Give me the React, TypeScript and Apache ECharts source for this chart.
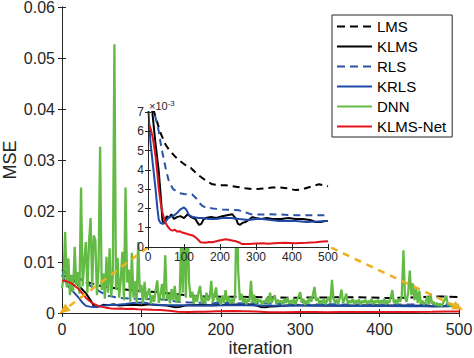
import React, { useEffect, useRef } from "react";
import * as echarts from "echarts";

// All values in units of 1e-3 (MSE x 10^-3)
const seriesNames = ["LMS", "KLMS", "RLS", "KRLS", "DNN", "KLMS-Net"];

const lmsData: number[][] = [
  [0, 7.1], [10, 7.4], [17, 7.0], [25, 6.5], [35, 5.9], [49, 5.3], [60, 5.0], [75, 4.7], [86, 4.5],
  [100, 4.3], [119, 4.1], [130, 3.9], [142, 3.7], [160, 3.45], [179, 3.25], [200, 3.2], [216, 3.2],
  [235, 3.15], [253, 3.1], [270, 3.05], [290, 3.0], [310, 3.02], [327, 3.05], [345, 3.08], [364, 3.1],
  [385, 3.05], [410, 2.95], [430, 3.0], [447, 3.1], [465, 3.2], [475, 3.25], [488, 3.2], [500, 3.15],
];

const rlsData: number[][] = [
  [0, 8.0], [10, 7.6], [17, 7.0], [25, 6.4], [30, 6.0], [35, 5.4], [40, 4.9], [50, 4.0], [58, 3.4],
  [70, 3.0], [86, 2.8], [100, 2.75], [123, 2.72], [135, 2.5], [142, 2.3], [150, 2.15], [160, 2.05],
  [180, 2.0], [206, 1.95], [230, 1.92], [253, 1.9], [270, 1.8], [290, 1.68], [310, 1.68], [336, 1.7],
  [370, 1.68], [410, 1.65], [450, 1.65], [500, 1.65],
];

const klmsData: number[][] = [
  [0, 8.5], [12, 7.0], [20, 5.5], [30, 3.9], [36, 2.5], [40, 1.4], [44, 1.2], [48, 1.35], [52, 1.6],
  [58, 1.5], [65, 1.7], [72, 1.45], [80, 1.55], [90, 1.6], [100, 1.5], [110, 1.7], [120, 1.55],
  [132, 1.45], [138, 1.25], [142, 1.15], [148, 1.2], [155, 1.45], [160, 1.5], [175, 1.55], [190, 1.5],
  [206, 1.6], [220, 1.65], [234, 1.7], [245, 1.45], [250, 1.2], [256, 1.15], [262, 1.25], [271, 1.3],
  [280, 1.4], [290, 1.55], [299, 1.5], [315, 1.45], [330, 1.5], [345, 1.45], [370, 1.45], [390, 1.5],
  [410, 1.45], [430, 1.45], [450, 1.4], [466, 1.3], [480, 1.3], [490, 1.35], [500, 1.35],
];

const krlsData: number[][] = [
  [0, 7.5], [3, 6.5], [7, 5.4], [14, 4.2], [21, 3.0], [26, 2.0], [30, 1.4], [35, 1.25], [40, 1.2],
  [48, 1.3], [58, 1.55], [70, 1.6], [80, 1.75], [90, 1.95], [100, 2.05], [106, 1.95], [114, 1.65],
  [125, 1.55], [140, 1.5], [151, 1.5], [170, 1.45], [190, 1.45], [206, 1.5], [230, 1.5], [253, 1.45],
  [280, 1.4], [300, 1.45], [318, 1.45], [340, 1.4], [364, 1.35], [390, 1.35], [410, 1.35], [440, 1.3],
  [470, 1.32], [500, 1.35],
];

const klmsNetData: number[][] = [
  [0, 6.35], [4, 6.3], [8, 6.1], [14, 5.6], [21, 4.7], [26, 3.8], [30, 3.0], [35, 2.3], [40, 1.8],
  [45, 1.45], [49, 1.25], [55, 1.05], [62, 0.9], [68, 0.85], [75, 0.9], [80, 0.8], [88, 0.82], [95, 0.75],
  [105, 0.7], [114, 0.65], [124, 0.6], [132, 0.5], [138, 0.4], [146, 0.25], [160, 0.22], [170, 0.26],
  [179, 0.25], [195, 0.32], [216, 0.4], [230, 0.35], [244, 0.3], [255, 0.22], [262, 0.15], [280, 0.15],
  [300, 0.18], [318, 0.2], [335, 0.17], [350, 0.2], [380, 0.22], [410, 0.2], [440, 0.22], [466, 0.25],
  [485, 0.28], [500, 0.3],
];

const dnnStep = 2;
const dnnValues: number[] = [
  4.8, 7.2, 15.9, 5.0, 10.7, 3.5, 7.5, 4.2, 13.0, 5.5,
  8.0, 3.8, 24.6, 5.2, 10.0, 13.9, 4.0, 13.9, 18.6, 5.0,
  15.2, 14.3, 3.5, 8.5, 32.6, 4.5, 7.8, 2.8, 11.0, 4.0,
  12.7, 3.2, 7.0, 52.7, 4.5, 10.8, 3.0, 6.5, 12.0, 2.5,
  24.6, 6.0, 8.5, 2.2, 11.8, 3.0, 6.2, 2.0, 13.9, 4.0,
  5.5, 2.0, 6.1, 2.5, 4.0, 4.8, 1.8, 3.5, 2.2, 4.5,
  6.4, 2.0, 3.6, 5.7, 2.4, 11.3, 2.8, 3.8, 1.9, 4.7,
  2.5, 5.3, 2.0, 3.6, 2.2, 14.0, 4.0, 18.0, 3.0, 21.0,
  6.0, 3.0, 4.2, 1.8, 3.5, 2.2, 4.0, 5.3, 2.0, 3.2,
  1.8, 4.0, 2.4, 3.0, 6.3, 2.0, 3.5, 5.0, 2.2, 3.0,
  1.6, 3.4, 2.0, 4.5, 2.2, 3.2, 1.8, 2.8, 2.0, 3.5,
  22.0, 8.0, 2.5, 3.8, 2.0, 3.0, 1.7, 2.8, 2.2, 6.3,
  2.0, 3.6, 1.8, 2.8, 2.2, 2.6, 1.6, 2.4, 2.0, 3.0,
  1.8, 4.0, 2.0, 2.8, 3.5, 1.7, 2.6, 2.0, 2.4, 1.6,
  2.8, 2.0, 3.0, 1.8, 2.5, 2.0, 2.8, 1.7, 2.6, 3.2,
  4.1, 2.0, 2.8, 1.6, 2.4, 2.0, 3.0, 2.2, 3.6, 5.1,
  2.4, 3.0, 1.8, 2.5, 2.0, 2.8, 1.7, 2.5, 3.2, 2.0,
  6.5, 2.8, 2.0, 2.6, 1.8, 3.0, 4.6, 2.0, 2.7, 3.8,
  1.8, 2.4, 2.0, 2.8, 1.7, 2.5, 2.0, 2.7, 1.6, 2.4,
  2.0, 2.6, 1.8, 2.4, 2.0, 2.8, 1.7, 2.4, 2.0, 2.6,
  1.8, 2.5, 2.0, 2.8, 1.7, 2.4, 2.0, 3.0, 4.5, 2.0,
  2.6, 1.8, 2.8, 2.2, 3.5, 12.3, 3.0, 2.2, 4.0, 8.3,
  3.5, 5.8, 2.5, 4.8, 2.0, 4.4, 1.8, 2.4, 1.6, 2.2,
  3.3, 1.6, 3.9, 1.8, 2.2, 1.5, 2.0, 1.4, 1.8, 1.3,
  2.0, 2.6, 3.4, 1.5, 1.8, 1.3, 1.6, 1.2, 1.5, 1.2,
  1.4,
];

// zoom-arrow annotation endpoints (iteration, MSE x1e-3)
const arrowCoords: number[][][] = [
  [[108, 12.9], [2, 0.5]],
  [[339, 12.8], [499, 1.1]],
];

const mainXTicks = { min: 0, max: 500, interval: 100 };
const mainYTicks = { min: 0, max: 60, interval: 10 };
const insetYTicks = { min: 0, max: 7, interval: 1 };

const colors: Record<string, string> = {
  LMS: "#000000",
  KLMS: "#000000",
  RLS: "#2b52a8",
  KRLS: "#1f4aa6",
  DNN: "#63bb45",
  "KLMS-Net": "#e3141c",
};

const FONT = "Liberation Sans, Arial, Helvetica, sans-serif";
const AX = "#262626";
const ORANGE = "#edb120";

const MAIN = { left: 62, top: 7, width: 397, height: 306 };
const INSET = { left: 148, top: 112, width: 180, height: 135 };

export default function App() {
  const ref = useRef<HTMLDivElement>(null);
  useEffect(() => {
    document.body.style.margin = "0";
    if (!ref.current) return;
    const chart = echarts.init(ref.current, undefined, { renderer: "svg" });

    const dnnData = dnnValues.map((v, i) => [i * dnnStep, v]);
    const dataByName: Record<string, number[][]> = {
      LMS: lmsData,
      KLMS: klmsData,
      RLS: rlsData,
      KRLS: krlsData,
      DNN: dnnData,
      "KLMS-Net": klmsNetData,
    };
    const dashed = (n: string) => n === "LMS" || n === "RLS";

    const mainSeries = seriesNames.map((n) => ({
      name: n,
      type: "line",
      xAxisIndex: 0,
      yAxisIndex: 0,
      data: dataByName[n],
      symbol: "none",
      showSymbol: false,
      z: 2,
      lineStyle: {
        color: colors[n],
        width: n === "DNN" ? 2.3 : 2,
        type: dashed(n) ? [8, 5] : "solid",
      },
      itemStyle: { color: colors[n] },
      silent: true,
    }));

    const insetSeries = seriesNames
      .filter((n) => n !== "DNN")
      .map((n) => ({
        name: n,
        type: "line",
        xAxisIndex: 2,
        yAxisIndex: 2,
        data: dataByName[n],
        symbol: "none",
        showSymbol: false,
        z: 7,
        clip: true,
        lineStyle: {
          color: colors[n],
          width: 2,
          type: dashed(n) ? [7, 5] : "solid",
        },
        itemStyle: { color: colors[n] },
        silent: true,
      }));

    const tickLine = { lineStyle: { color: AX, width: 1 } };
    const labelStyle = { color: AX, fontFamily: FONT };

    const baseOption: any = {
      animation: false,
      backgroundColor: "#fff",
      grid: [
        { ...MAIN, containLabel: false, outerBoundsMode: "none" },
        { ...INSET, containLabel: false, outerBoundsMode: "none" },
      ],
      legend: {
        orient: "vertical",
        left: 332,
        top: 15,
        itemWidth: 35,
        itemHeight: 14,
        itemGap: 5,
        padding: [4, 6, 3, 4],
        backgroundColor: "#fff",
        borderColor: AX,
        borderWidth: 1,
        borderRadius: 0,
        selectedMode: false,
        z: 20,
        data: seriesNames,
        itemStyle: { opacity: 0, borderWidth: 0 },
        textStyle: { fontSize: 15, fontFamily: FONT, color: "#000" },
      },
      xAxis: [
        {
          gridIndex: 0,
          type: "value",
          ...mainXTicks,
          position: "bottom",
          axisLine: { show: true, ...tickLine },
          axisTick: { show: true, inside: true, length: 4, ...tickLine },
          axisLabel: { ...labelStyle, fontSize: 16, margin: 8 },
          splitLine: { show: false },
          name: "iteration",
          nameLocation: "middle",
          nameGap: 26,
          nameMoveOverlap: false,
          nameTextStyle: { ...labelStyle, fontSize: 18 },
        },
        {
          gridIndex: 0,
          type: "value",
          ...mainXTicks,
          position: "top",
          axisLine: { show: true, ...tickLine },
          axisTick: { show: true, inside: true, length: 4, ...tickLine },
          axisLabel: { show: false },
          splitLine: { show: false },
        },
        {
          gridIndex: 1,
          type: "value",
          ...mainXTicks,
          position: "bottom",
          z: 8,
          axisLine: { show: true, ...tickLine },
          axisTick: { show: true, inside: true, length: 3, ...tickLine },
          axisLabel: { ...labelStyle, fontSize: 12, margin: 4 },
          splitLine: { show: false },
        },
        {
          gridIndex: 1,
          type: "value",
          ...mainXTicks,
          position: "top",
          z: 8,
          axisLine: { show: true, ...tickLine },
          axisTick: { show: true, inside: true, length: 3, ...tickLine },
          axisLabel: { show: false },
          splitLine: { show: false },
        },
      ],
      yAxis: [
        {
          gridIndex: 0,
          type: "value",
          ...mainYTicks,
          position: "left",
          axisLine: { show: true, ...tickLine },
          axisTick: { show: true, inside: true, length: 4, ...tickLine },
          axisLabel: {
            ...labelStyle,
            fontSize: 16,
            margin: 7,
            formatter: (v: number) => (v === 0 ? "0" : String(v / 1000)),
          },
          splitLine: { show: false },
          name: "MSE",
          nameLocation: "middle",
          nameGap: 43,
          nameMoveOverlap: false,
          nameTextStyle: { ...labelStyle, fontSize: 18 },
        },
        {
          gridIndex: 0,
          type: "value",
          ...mainYTicks,
          position: "right",
          axisLine: { show: true, ...tickLine },
          axisTick: { show: true, inside: true, length: 4, ...tickLine },
          axisLabel: { show: false },
          splitLine: { show: false },
        },
        {
          gridIndex: 1,
          type: "value",
          ...insetYTicks,
          position: "left",
          z: 8,
          axisLine: { show: true, ...tickLine },
          axisTick: { show: true, inside: true, length: 3, ...tickLine },
          axisLabel: { ...labelStyle, fontSize: 12, margin: 4 },
          splitLine: { show: false },
        },
        {
          gridIndex: 1,
          type: "value",
          ...insetYTicks,
          position: "right",
          z: 8,
          axisLine: { show: true, ...tickLine },
          axisTick: { show: true, inside: true, length: 3, ...tickLine },
          axisLabel: { show: false },
          splitLine: { show: false },
        },
      ],
      graphic: [
        {
          type: "rect",
          z: 5,
          silent: true,
          shape: { x: INSET.left, y: INSET.top, width: INSET.width, height: INSET.height },
          style: { fill: "#fff" },
        },
        {
          type: "text",
          z: 9,
          silent: true,
          x: INSET.left + 1,
          y: INSET.top - 13,
          style: {
            text: "{a|×10}{b|-3}",
            rich: {
              a: { fontSize: 11, fontFamily: FONT, fill: AX },
              b: { fontSize: 8, fontFamily: FONT, fill: AX, verticalAlign: "top", padding: [0, 0, 6, 0] },
            },
          },
        },
      ],
      series: [
        ...mainSeries,
        ...insetSeries,
        {
          id: "arrows",
          type: "lines",
          coordinateSystem: "cartesian2d",
          xAxisIndex: 0,
          yAxisIndex: 0,
          z: 4,
          silent: true,
          symbol: ["none", "none"],
          lineStyle: { color: ORANGE, width: 2.5, type: [7, 6], opacity: 1 },
          data: arrowCoords.map((c) => ({ coords: c })),
        },
      ],
    };
    chart.setOption(baseOption);

    // arrowheads oriented along each arrow in pixel space
    const heads = arrowCoords.map((c) => {
      const p0 = chart.convertToPixel({ xAxisIndex: 0, yAxisIndex: 0 }, c[0]) as number[];
      const p1 = chart.convertToPixel({ xAxisIndex: 0, yAxisIndex: 0 }, c[1]) as number[];
      const ang = (Math.atan2(-(p1[1] - p0[1]), p1[0] - p0[0]) * 180) / Math.PI - 90;
      return { value: c[1], symbolRotate: ang };
    });
    chart.setOption({
      series: [
        ...baseOption.series,
        {
          id: "arrowHeads",
          type: "scatter",
          xAxisIndex: 0,
          yAxisIndex: 0,
          z: 4,
          silent: true,
          symbol: "triangle",
          symbolSize: [9, 11],
          itemStyle: { color: ORANGE, opacity: 1 },
          data: heads,
        },
      ],
    });
    return () => chart.dispose();
  }, []);
  return <div ref={ref} style={{ width: 474, height: 358 }} />;
}
